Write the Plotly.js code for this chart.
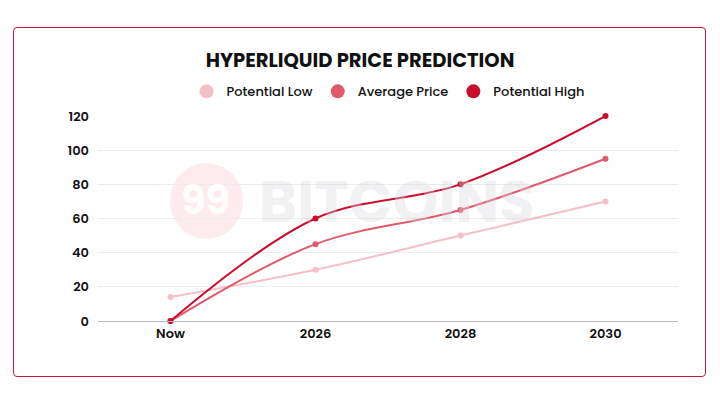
<!DOCTYPE html>
<html><head><meta charset="utf-8">
<script src="https://cdn.plot.ly/plotly-3.0.1.min.js"></script>
<style>
html,body{margin:0;padding:0;background:#fff;}
#wrap{position:relative;width:720px;height:404px;}
#chart{width:720px;height:404px;}
#frame{position:absolute;left:13px;top:27px;width:691px;height:348px;border:1.5px solid #c8183f;border-radius:4px;pointer-events:none;}
</style></head>
<body>
<div id="wrap"><div id="chart"></div><div id="frame"></div></div>
<script>
const categories = ["Now", "2026", "2028", "2030"];
const potentialLow = [14, 30, 50, 70];
const averagePrice = [0, 45, 65, 95];
const potentialHigh = [0, 60, 80, 120];
const yTicks = [0, 20, 40, 60, 80, 100, 120];
const seriesNames = ["Potential Low", "Average Price", "Potential High"];
const seriesColors = ["#f4c0c8", "#e05a6d", "#c8102e"];

const FONT = "Poppins, Inter, 'Open Sans', sans-serif";
const series = [potentialLow, averagePrice, potentialHigh];
const data = [];
series.forEach((y, i) => {
  data.push({x: categories, y: y, name: seriesNames[i], type: 'scatter', mode: 'lines+markers',
    line: {color: seriesColors[i], width: 2, shape: 'spline', smoothing: 1},
    marker: {color: seriesColors[i], size: 6}, cliponaxis: false, showlegend: false});
});
// legend-only entries (round dots, as in the original legend)
series.forEach((y, i) => {
  data.push({x: [null], y: [null], name: seriesNames[i], type: 'scatter', mode: 'markers',
    marker: {color: seriesColors[i], size: 14}, showlegend: true});
});
const layout = {
  width: 720, height: 404,
  margin: {l: 98, r: 42, t: 116, b: 83},
  paper_bgcolor: '#fff', plot_bgcolor: '#fff',
  font: {family: FONT, color: '#111'},
  title: {text: '<b>HYPERLIQUID PRICE PREDICTION</b>', x: 0.5, xanchor: 'center', y: 0.852, yanchor: 'middle',
    font: {size: 19.5, family: FONT, color: '#111'}},
  legend: {orientation: 'h', x: 0.5, xanchor: 'center', y: 1.12, yanchor: 'middle',
    font: {size: 13, family: FONT, color: '#111', weight: 500}, itemsizing: 'trace', traceorder: 'normal',
    itemwidth: 30, tracegroupgap: 0},
  xaxis: {type: 'category', range: [-0.5, 3.5], showgrid: false, showline: true, linecolor: '#bbb', linewidth: 1,
    ticks: '', tickfont: {size: 13, family: FONT, color: '#111', weight: 600}, zeroline: false, fixedrange: true},
  yaxis: {range: [0, 120], tickvals: yTicks, showgrid: true, gridcolor: '#ececec', gridwidth: 1,
    zeroline: true, zerolinecolor: '#bbb', showline: false, ticks: '', ticklabelstandoff: 8,
    tickfont: {size: 13, family: FONT, color: '#111', weight: 600}, fixedrange: true},
  annotations: [
    {xref: 'paper', yref: 'paper', x: 0.274, y: 0.585, text: '<b>BITCOINS</b>', showarrow: false,
     font: {size: 58, family: FONT, color: 'rgba(215,215,222,0.35)'}, xanchor: 'left', yanchor: 'middle'},
    {xref: 'paper', yref: 'paper', x: 0.186, y: 0.59, text: '<b>99</b>', showarrow: false,
     font: {size: 40, family: FONT, color: 'rgba(255,255,255,0.9)'}, xanchor: 'center', yanchor: 'middle'}
  ],
  shapes: [
    {type: 'circle', xref: 'paper', yref: 'paper', x0: 0.124, x1: 0.25, y0: 0.40, y1: 0.77,
     line: {width: 0}, fillcolor: 'rgba(240,110,125,0.14)', layer: 'below'}
  ],
  showlegend: true
};
Plotly.newPlot('chart', data, layout, {displayModeBar: false, staticPlot: true});
</script>
</body></html>
